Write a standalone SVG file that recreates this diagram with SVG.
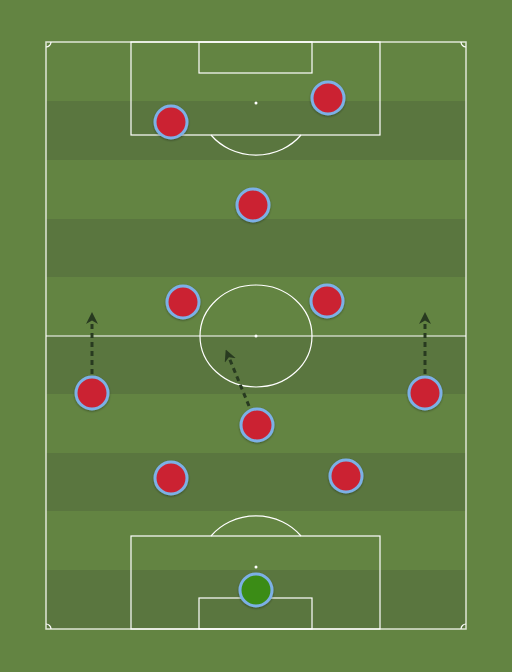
<svg xmlns="http://www.w3.org/2000/svg" width="512" height="672" viewBox="0 0 512 672">
<defs>
<style>
.ln{fill:none;stroke:#ffffff;stroke-width:1.2}
.bd{fill:none;stroke:#dfe6d6;stroke-width:1.5}
.dk{fill:#5a763f}
.pl{fill:#cb2431;stroke:#7cb0e6;stroke-width:3}
.gk{fill:#3a8c16;stroke:#7cb0e6;stroke-width:3}
.ar{fill:none;stroke:#283a20;stroke-width:3;stroke-dasharray:5 4}
</style>
<marker id="ah" viewBox="0 0 10 10" refX="5" refY="5" markerWidth="4" markerHeight="4" orient="auto">
<path d="M0,0 L10,5 L0,10 L3,5 Z" fill="#283a20"/>
</marker>
<filter id="sh" x="-30%" y="-30%" width="160%" height="160%">
<feDropShadow dx="0" dy="1" stdDeviation="1" flood-color="#000" flood-opacity="0.35"/>
</filter>
</defs>
<rect x="0" y="0" width="512" height="672" fill="#638442"/>
<g id="stripes">
<rect class="dk" x="46" y="101" width="420" height="59"/>
<rect class="dk" x="46" y="219" width="420" height="58"/>
<rect class="dk" x="46" y="336" width="420" height="58"/>
<rect class="dk" x="46" y="453" width="420" height="58"/>
<rect class="dk" x="46" y="570" width="420" height="59"/>
</g>
<g id="pitch">
<rect class="bd" x="46" y="42" width="420" height="587"/>
<line class="ln" x1="46" y1="336" x2="466" y2="336"/>
<ellipse class="ln" cx="256" cy="336" rx="56" ry="51"/>
<circle cx="256" cy="336" r="1.5" fill="#fff"/>
<rect class="ln" x="131" y="42" width="249" height="93"/>
<rect class="ln" x="199" y="42" width="113" height="31"/>
<circle cx="256" cy="103" r="1.5" fill="#fff"/>
<path class="ln" d="M211,135 A57,52 0 0 0 301,135"/>
<rect class="ln" x="131" y="536" width="249" height="93"/>
<rect class="ln" x="199" y="598" width="113" height="31"/>
<circle cx="256" cy="567" r="1.5" fill="#fff"/>
<path class="ln" d="M211,536 A57,52 0 0 1 301,536"/>
<path class="ln" d="M46,47 A5,5 0 0 0 51,42"/>
<path class="ln" d="M461,42 A5,5 0 0 0 466,47"/>
<path class="ln" d="M46,624 A5,5 0 0 1 51,629"/>
<path class="ln" d="M461,629 A5,5 0 0 1 466,624"/>
</g>
<g id="connectors">
<line class="ar" x1="92" y1="374" x2="92" y2="318" marker-end="url(#ah)"/>
<line class="ar" x1="425" y1="374" x2="425" y2="318" marker-end="url(#ah)"/>
<line class="ar" x1="249" y1="406" x2="228" y2="355" marker-end="url(#ah)"/>
</g>
<g id="players" filter="url(#sh)">
<g id="p1"><circle class="pl" cx="171" cy="122" r="16"/></g>
<g id="p2"><circle class="pl" cx="328" cy="98" r="16"/></g>
<g id="p3"><circle class="pl" cx="253" cy="205" r="16"/></g>
<g id="p4"><circle class="pl" cx="183" cy="302" r="16"/></g>
<g id="p5"><circle class="pl" cx="327" cy="301" r="16"/></g>
<g id="p6"><circle class="pl" cx="92" cy="393" r="16"/></g>
<g id="p7"><circle class="pl" cx="425" cy="393" r="16"/></g>
<g id="p8"><circle class="pl" cx="257" cy="425" r="16"/></g>
<g id="p9"><circle class="pl" cx="171" cy="478" r="16"/></g>
<g id="p10"><circle class="pl" cx="346" cy="476" r="16"/></g>
<g id="gk"><circle class="gk" cx="256" cy="590" r="16"/></g>
</g>
</svg>
